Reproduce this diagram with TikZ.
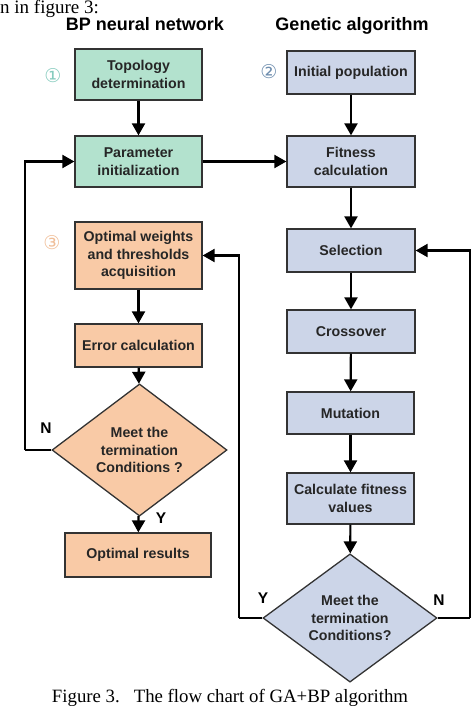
\documentclass[tikz,border=0pt]{standalone}
\usepackage{fontspec}
\setmainfont{Liberation Sans}
\newfontfamily\serifx{Liberation Serif}
\newfontfamily\symx{DejaVu Sans}
\usetikzlibrary{shapes.geometric,arrows.meta}
\definecolor{gbox}{HTML}{B3E2CE}
\definecolor{bbox}{HTML}{CCD5E8}
\definecolor{obox}{HTML}{F9CAA6}
\definecolor{cone}{HTML}{86CBBE}
\definecolor{ctwo}{HTML}{6E8DAE}
\definecolor{cthree}{HTML}{F0BE98}
\definecolor{txt}{HTML}{262626}
\tikzset{
  boxbase/.style={draw=black!80, line width=1.3pt, align=center, inner sep=1pt,
    text=txt, font=\fontsize{14.2}{17.5}\selectfont\bfseries},
  gb/.style={boxbase, fill=gbox},
  bb/.style={boxbase, fill=bbox},
  ob/.style={boxbase, fill=obox},
  decide/.style={boxbase, shape=diamond, inner sep=0pt},
  conn/.style={line width=2.2pt, draw=black, -{Triangle[length=12pt,width=13pt]}},
  plain/.style={line width=2.2pt, draw=black},
  lab/.style={font=\fontsize{15.5}{15.5}\selectfont\bfseries, text=black},
  ttl/.style={font=\fontsize{18}{18}\selectfont\bfseries, text=black},
  num/.style={font=\fontsize{19}{19}\selectfont\symx}
}
\begin{document}
\begin{tikzpicture}[x=1pt,y=-1pt]
\useasboundingbox (0,0) rectangle (474,706);
\node[anchor=base west, inner sep=0pt, font=\fontsize{19}{19}\selectfont\serifx] (toptext) at (0,14) {n in figure 3:};

\node[ttl] (t1) at (145,24) {BP neural network};
\node[ttl] (t2) at (352,26) {Genetic algorithm};

\node[num, text=cone] (n1) at (53,76) {①};
\node[num, text=ctwo] (n2) at (269,72) {②};
\node[num, text=cthree] (n3) at (52,243) {③};

% left column
\node[gb, minimum width=127pt, minimum height=51pt] (topo) at (138.5,74.5) {Topology\\determination};
\node[gb, minimum width=127pt, minimum height=51pt] (param) at (138.5,161.5) {Parameter\\initialization};
\node[ob, minimum width=127pt, minimum height=67pt] (optw) at (138.5,255.5) {Optimal weights\\and thresholds\\acquisition};
\node[ob, minimum width=127pt, minimum height=43pt] (err) at (138.5,345.5) {Error calculation};
\node[decide, fill=obox, minimum width=175pt, minimum height=108pt] (dia1) at (139.5,450) {Meet the\\termination\\Conditions ?};
\node[ob, minimum width=146pt, minimum height=44pt] (optres) at (138,555) {Optimal results};

% right column
\node[bb, minimum width=128pt, minimum height=43pt] (init) at (351,72.5) {Initial population};
\node[bb, minimum width=128pt, minimum height=51pt] (fit) at (351,161.5) {Fitness\\calculation};
\node[bb, minimum width=128pt, minimum height=43pt] (sel) at (351,250.5) {Selection};
\node[bb, minimum width=128pt, minimum height=43pt] (cross) at (351,331.5) {Crossover};
\node[bb, minimum width=127pt, minimum height=42pt] (mut) at (350.5,413) {Mutation};
\node[bb, minimum width=127pt, minimum height=51pt] (calc) at (350.5,498.5) {Calculate fitness\\values};
\node[decide, fill=bbox, minimum width=174pt, minimum height=110pt] (dia2) at (350,618) {Meet the\\termination\\Conditions?};

% connectors
\draw[conn] (topo) -- (param);
\draw[conn] (param) -- (fit);
\draw[conn] (optw) -- (err);
\draw[conn] (err) -- (dia1);
\draw[conn] (dia1) -- (optres);
\draw[conn] (init) -- (fit);
\draw[conn] (fit) -- (sel);
\draw[conn] (sel) -- (cross);
\draw[conn] (cross) -- (mut);
\draw[conn] (mut) -- (calc);
\draw[conn] (calc) -- (dia2);

\coordinate (lp) at (25,450);
\coordinate (mp) at (239,618);
\coordinate (rp) at (470,618);
\draw[plain] (dia1.west) -- (lp);
\draw[conn] (lp) |- (param.west);
\draw[plain] (dia2.west) -- (mp);
\draw[conn] (mp) |- (optw.east);
\draw[plain] (dia2.east) -- (rp);
\draw[conn] (rp) |- (sel.east);

\node[lab] (ln1) at (46,428) {N};
\node[lab] (ly1) at (161,518) {Y};
\node[lab] (ly2) at (263,598) {Y};
\node[lab] (ln2) at (439,600) {N};

\node[font=\fontsize{18.8}{18.8}\selectfont\serifx] (cap) at (230,698) {Figure 3.\hspace{14pt}The flow chart of GA+BP algorithm};
\end{tikzpicture}
\end{document}
